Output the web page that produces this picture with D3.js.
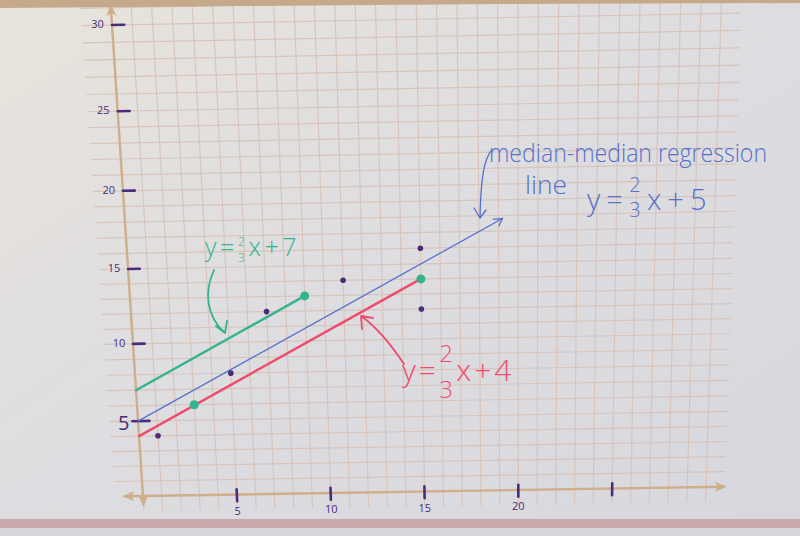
<!DOCTYPE html>
<html>
<head>
<meta charset="utf-8">
<script src="https://cdn.jsdelivr.net/npm/d3@7"></script>
<style>
  body { margin: 0; background: #dddde0; }
</style>
</head>
<body>
<script>
var xTicks = [5, 10, 15, 20, 25];
var xTickLabels = ["5", "10", "15", "20", ""];
var yTicks = [5, 10, 15, 20, 25, 30];
var yTickLabels = ["5", "10", "15", "20", "25", "30"];

var pointX = [1, 5, 7, 11, 15, 15];
var pointY = [4, 8, 12, 14, 16, 12];

// median points of the three groups
var medianX = [3, 9, 15];
var medianY = [6, 13, 14];

// lines y = 2/3 x + b
var slopeNum = 2, slopeDen = 3;
var lineIntercept = [7, 5, 4];
var lineStart = [0, 0, 0];
var lineEnd = [9, 19.2, 15];

var width = 800, height = 536;
var hand = "'Open Sans', 'Noto Sans', sans-serif";

var purple = "#4a2c78", green = "#33b38e", red = "#ef4b6c", blue = "#5670cc", tan = "#cfae8c";

// board was shot at an angle, so x / y go to 0..1 and are then warped between the grid corners
var x = d3.scaleLinear().domain([0, 30]).range([0, 1]);
var y = d3.scaleLinear().domain([0, 5, 10, 15, 20, 25, 30]).range([0, .159, .323, .482, .648, .817, 1]);
var c00 = [143, 496], c10 = [706, 487], c01 = [112, 25], c11 = [721, 13.5];

function project(dx, dy) {
  var u = x(dx), v = y(dy);
  return [
    (1 - u) * (1 - v) * c00[0] + u * (1 - v) * c10[0] + (1 - u) * v * c01[0] + u * v * c11[0],
    (1 - u) * (1 - v) * c00[1] + u * (1 - v) * c10[1] + (1 - u) * v * c01[1] + u * v * c11[1]
  ];
}

function seg(g, a, b) {
  return g.append("line")
    .attr("x1", a[0]).attr("y1", a[1])
    .attr("x2", b[0]).attr("y2", b[1]);
}

var svg = d3.select("body").append("svg")
  .attr("width", width)
  .attr("height", height);

var defs = svg.append("defs");
var grad = defs.append("linearGradient").attr("id", "board")
  .attr("x1", 0).attr("y1", 0).attr("x2", 1).attr("y2", 1);
grad.append("stop").attr("offset", 0).attr("stop-color", "#e8e4dc");
grad.append("stop").attr("offset", 0.45).attr("stop-color", "#dedde0");
grad.append("stop").attr("offset", 1).attr("stop-color", "#d7d8de");

defs.append("marker").attr("id", "axisArrow")
  .attr("viewBox", "-10 -6 12 12").attr("refX", 0).attr("refY", 0)
  .attr("markerWidth", 12).attr("markerHeight", 12)
  .attr("markerUnits", "userSpaceOnUse")
  .attr("orient", "auto-start-reverse")
  .append("path").attr("d", "M-10,-5 L2,0 L-10,5 L-7,0 Z").attr("fill", tan);

defs.append("marker").attr("id", "blueArrow")
  .attr("viewBox", "-10 -6 12 12").attr("refX", 0).attr("refY", 0)
  .attr("markerWidth", 12).attr("markerHeight", 12)
  .attr("markerUnits", "userSpaceOnUse")
  .attr("orient", "auto")
  .append("path").attr("d", "M-9,-4 L0,0 L-7,5")
  .attr("fill", "none").attr("stroke", blue).attr("stroke-width", 1.3);

svg.append("rect").attr("width", width).attr("height", height).attr("fill", "url(#board)");

// grid, one line per unit
var grid = svg.append("g").attr("stroke", "#d8c5bc").attr("stroke-width", 1.2);
d3.range(0, 31).forEach(function (d) {
  seg(grid, project(d, -1), project(d, 31.6));
});
d3.range(1, 32).forEach(function (d) {
  seg(grid, project(-1.5, d), project(31, d));
});

// axes with arrows on both ends
var axes = svg.append("g").attr("stroke", tan).attr("stroke-width", 2.4)
  .attr("marker-start", "url(#axisArrow)").attr("marker-end", "url(#axisArrow)");
seg(axes, project(-1, 0), project(31, 0));
seg(axes, project(0, -0.6), project(0, 31.1));

// ticks
var ticks = svg.append("g").attr("stroke", purple).attr("stroke-width", 2.6).attr("stroke-linecap", "round");
var labels = svg.append("g").attr("fill", purple).style("font-family", hand);

xTicks.forEach(function (t, i) {
  seg(ticks, project(t, -0.45), project(t, 0.35));
  var p = project(t, -1.15);
  labels.append("text").attr("x", p[0]).attr("y", p[1])
    .attr("text-anchor", "middle").attr("dominant-baseline", "middle")
    .style("font-size", "11px").text(xTickLabels[i]);
});

yTicks.forEach(function (t, i) {
  var big = t === 5;
  seg(ticks, project(big ? -0.3 : 0, t), project(0.6, t));
  var p = project(big ? -0.45 : -0.4, t);
  labels.append("text").attr("x", p[0]).attr("y", p[1] + (big ? 3 : 0))
    .attr("text-anchor", "end").attr("dominant-baseline", "middle")
    .style("font-size", big ? "20px" : "11px").text(yTickLabels[i]);
});

// the three lines
var lineColor = [green, blue, red];
var lineWidth = [2.4, 1.3, 2.4];
lineIntercept.forEach(function (b, i) {
  var x0 = lineStart[i], x1 = lineEnd[i];
  var l = seg(svg, project(x0, slopeNum / slopeDen * x0 + b), project(x1, slopeNum / slopeDen * x1 + b))
    .attr("stroke", lineColor[i]).attr("stroke-width", lineWidth[i]).attr("stroke-linecap", "round");
  if (i === 1) l.attr("marker-end", "url(#blueArrow)");
});

// data points and median points
svg.append("g").selectAll("circle").data(pointX).enter().append("circle")
  .attr("cx", function (d, i) { return project(d, pointY[i])[0]; })
  .attr("cy", function (d, i) { return project(d, pointY[i])[1]; })
  .attr("r", 2.8).attr("fill", purple);

svg.append("g").selectAll("circle").data(medianX).enter().append("circle")
  .attr("cx", function (d, i) { return project(d, medianY[i])[0]; })
  .attr("cy", function (d, i) { return project(d, medianY[i])[1]; })
  .attr("r", 4.5).attr("fill", green);

// ---- handwritten annotations ----
// pieces: y = [2 over 3] x + b, laid out left to right with a gap
function equation(x0, base, size, fracSize, upDy, downDy, gap, color, b) {
  var g = svg.append("g").attr("fill", color).style("font-family", hand).style("font-weight", 300);
  var cx = x0;
  function put(str) {
    var t = g.append("text").attr("x", cx).attr("y", base).style("font-size", size + "px").text(str);
    cx += t.node().getComputedTextLength() + gap;
  }
  put("y");
  put("=");
  var f = g.append("text").style("font-size", fracSize + "px").attr("text-anchor", "middle");
  var fw = fracSize * 0.6;
  f.append("tspan").attr("x", cx + fw / 2).attr("y", base + upDy).text(String(slopeNum));
  f.append("tspan").attr("x", cx + fw / 2).attr("y", base + downDy).text(String(slopeDen));
  cx += fw + gap;
  put("x");
  put("+");
  put(String(b));
}

equation(205, 256, 25, 12, -10, 6, 3.5, green, lineIntercept[0]);
equation(587, 210, 29, 20, -18, 7, 6, blue, lineIntercept[1]);
equation(402, 381, 30, 24, -19, 17, 3, red, lineIntercept[2]);

var note = svg.append("g").attr("fill", blue).style("font-family", hand).style("font-weight", 300);
note.append("text").attr("x", 489).attr("y", 162).style("font-size", "25px")
  .attr("textLength", 278).attr("lengthAdjust", "spacingAndGlyphs").text("median-median regression");
note.append("text").attr("x", 525).attr("y", 194).style("font-size", "25px")
  .attr("textLength", 42).attr("lengthAdjust", "spacingAndGlyphs").text("line");

// curved pointer arrows
var arrows = svg.append("g").attr("fill", "none").attr("stroke-width", 1.8).attr("stroke-linecap", "round").attr("stroke-linejoin", "round");
arrows.append("path").attr("stroke", blue).attr("stroke-width", 1.3).attr("d", "M492,150 C484,158 481,178 480,217 M474,208 L480,218 L486,210");
arrows.append("path").attr("stroke", green).attr("d", "M214,270 C204,292 206,316 225,333 M216,326 L225,333 L227,321");
arrows.append("path").attr("stroke", red).attr("d", "M404,364 C392,346 378,328 361,316 M362,329 L361,316 L373,318");

// board edges
svg.append("path").attr("d", "M0,0 L800,0 L800,3 L500,4 L0,8 Z").attr("fill", "#c6a88b");
svg.append("rect").attr("x", 0).attr("y", 519).attr("width", width).attr("height", 9).attr("fill", "#c9a8ab");
svg.append("rect").attr("x", 0).attr("y", 528).attr("width", width).attr("height", 8).attr("fill", "#d6d6db");
</script>
</body>
</html>
